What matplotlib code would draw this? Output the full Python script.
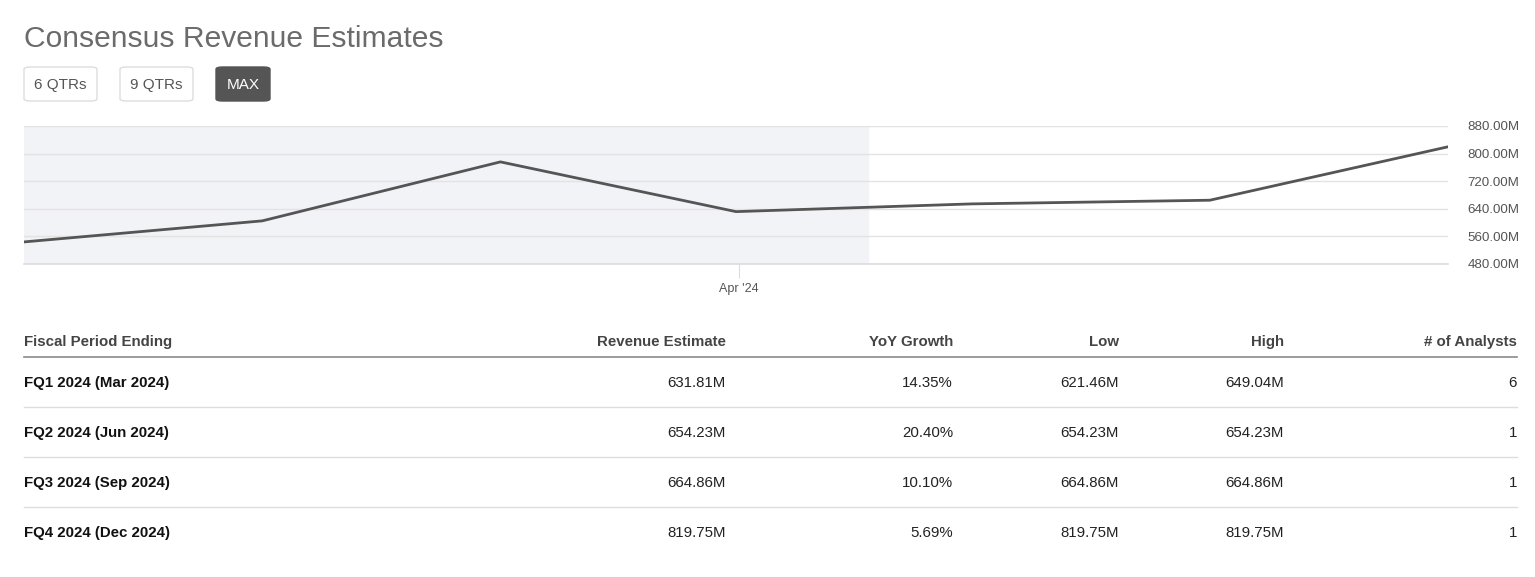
import numpy as np
import matplotlib.pyplot as plt
import matplotlib.dates as mdates
from matplotlib.patches import FancyBboxPatch
from datetime import datetime

plt.rcParams['font.family'] = ['Liberation Sans', 'DejaVu Sans']

# chart data (revenue, millions)
chart_dates = [datetime(2023, 6, 30), datetime(2023, 9, 30), datetime(2023, 12, 31),
               datetime(2024, 3, 31), datetime(2024, 6, 30), datetime(2024, 9, 30),
               datetime(2024, 12, 31)]
chart_values = [544, 605, 776, 631.81, 654.23, 664.86, 819.75]
today = datetime(2024, 5, 21)
y_ticks = [480, 560, 640, 720, 800, 880]

# table data
headers = ['Fiscal Period Ending', 'Revenue Estimate', 'YoY Growth', 'Low', 'High', '# of Analysts']
periods = ['FQ1 2024 (Mar 2024)', 'FQ2 2024 (Jun 2024)', 'FQ3 2024 (Sep 2024)', 'FQ4 2024 (Dec 2024)']
rev_est = ['631.81M', '654.23M', '664.86M', '819.75M']
yoy = ['14.35%', '20.40%', '10.10%', '5.69%']
low = ['621.46M', '654.23M', '664.86M', '819.75M']
high = ['649.04M', '654.23M', '664.86M', '819.75M']
analysts = ['6', '1', '1', '1']
buttons = ['6 QTRs', '9 QTRs', 'MAX']

W, H = 1535, 577
fig = plt.figure(figsize=(W / 100, H / 100), dpi=100)

def fx(px):
    return px / W

def fy(py):
    return 1 - py / H

# title
fig.text(fx(24), fy(47), 'Consensus Revenue Estimates', fontsize=21.6, color='#6b6b6b',
         va='baseline', ha='left')

# buttons
btn_x = [(24, 97), (120, 193), (216, 270)]
for i, (lbl, (x0, x1)) in enumerate(zip(buttons, btn_x)):
    active = lbl == 'MAX'
    box = FancyBboxPatch((fx(x0), fy(101)), fx(x1 - x0), (101 - 67) / H,
                         boxstyle='round,pad=0,rounding_size=0.004',
                         transform=fig.transFigure,
                         facecolor='#555555' if active else 'white',
                         edgecolor='#555555' if active else '#dddddd', lw=1)
    fig.patches.append(box)
    fig.text(fx((x0 + x1) / 2), fy(89), lbl, fontsize=11,
             color='white' if active else '#555555', ha='center', va='baseline')

# chart
ax = fig.add_axes([fx(24), fy(264), fx(1448 - 24), (264 - 126) / H])
ax.axvspan(chart_dates[0], today, color='#f2f3f7', zorder=0)
ax.plot(chart_dates, chart_values, color='#555555', lw=2, zorder=3)
ax.set_xlim(chart_dates[0], chart_dates[-1])
ax.set_ylim(480, 880)
ax.set_yticks(y_ticks)
ax.set_yticklabels([f'{v:.2f}M' for v in y_ticks])
ax.yaxis.tick_right()
ax.grid(axis='y', color='#e3e3e3', lw=1)
ax.set_axisbelow(True)
for s in ['top', 'left', 'right']:
    ax.spines[s].set_visible(False)
ax.spines['bottom'].set_color('#dcdcdc')
ax.spines['bottom'].set_linewidth(1.2)
ax.xaxis.set_major_locator(mdates.MonthLocator(bymonth=[4]))
ax.xaxis.set_major_formatter(mdates.DateFormatter("%b '%y"))
ax.tick_params(axis='x', length=10, color='#dcdcdc', labelsize=9, labelcolor='#555555', pad=4)
ax.tick_params(axis='y', length=0, labelsize=9.6, labelcolor='#555555', pad=14)

# table
col_right = [None, 726, 953, 1119, 1284, 1517]
fs = 10.8
fig.text(fx(24), fy(346), headers[0], fontsize=fs, weight='bold', color='#444444',
         ha='left', va='baseline')
for h, xr in zip(headers[1:], col_right[1:]):
    fig.text(fx(xr), fy(346), h, fontsize=fs, weight='bold', color='#444444',
             ha='right', va='baseline')
fig.add_artist(plt.Line2D([fx(24), fx(1517)], [fy(357), fy(357)], color='#8a8a8a', lw=1.2))

row_y = [382, 432, 482, 532]
for i, ry in enumerate(row_y):
    fig.text(fx(24), fy(ry + 5), periods[i], fontsize=fs, weight='bold', color='#111111',
             ha='left', va='baseline')
    vals = [rev_est[i], yoy[i], low[i], high[i], analysts[i]]
    for v, xr in zip(vals, col_right[1:]):
        fig.text(fx(xr), fy(ry + 5), v, fontsize=fs, color='#222222', ha='right', va='baseline')
    if i < len(row_y) - 1:
        fig.add_artist(plt.Line2D([fx(24), fx(1517)], [fy(ry + 25), fy(ry + 25)],
                                  color='#dddddd', lw=1))

fig.savefig('out.png', dpi=100, facecolor='white')
